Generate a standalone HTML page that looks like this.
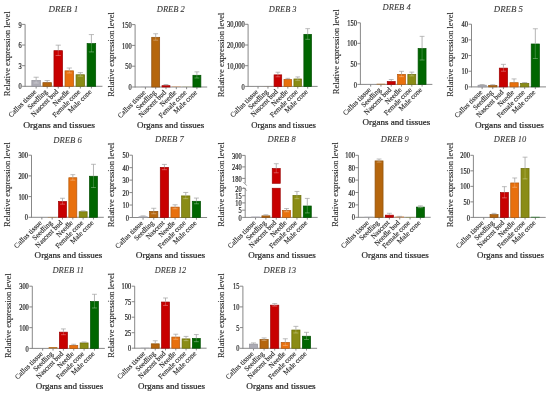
<!DOCTYPE html>
<html><head><meta charset="utf-8"><style>
html,body{margin:0;padding:0;background:#fff;}
svg{display:block;}
text{font-family:'Liberation Serif',serif;fill:#262626;stroke:#262626;stroke-width:0.22px;}
text.t{fill:#3a3a3a;stroke:#3a3a3a;stroke-width:0.1px;}
text.c{stroke-width:0.12px;}
text.y{stroke-width:0.1px;}
</style></head><body>
<svg width="550" height="393" viewBox="0 0 550 393">
<defs><filter id="b" x="-2%" y="-2%" width="104%" height="104%"><feGaussianBlur stdDeviation="0.3"/></filter></defs>
<rect width="550" height="393" fill="#fff"/>
<g filter="url(#b)">
<text class="t" x="63.30" y="11.80" font-size="8.8" text-anchor="middle" font-style="italic" textLength="29.70" lengthAdjust="spacingAndGlyphs">DREB 1</text>
<text class="y" x="10.30" y="53.80" font-size="8.45" text-anchor="middle" textLength="84.70" lengthAdjust="spacingAndGlyphs" transform="rotate(-90 10.30 53.80)">Relative expression level</text>
<text x="59.05" y="127.60" font-size="9.0" text-anchor="middle" textLength="71.80" lengthAdjust="spacingAndGlyphs">Organs and tissues</text>
<line x1="25.10" y1="24.40" x2="25.10" y2="86.75" stroke="#7a7a7a" stroke-width="0.9"/>
<line x1="22.10" y1="86.30" x2="25.10" y2="86.30" stroke="#7a7a7a" stroke-width="0.9"/>
<text x="21.60" y="89.40" font-size="7.4" text-anchor="end" textLength="3.20" lengthAdjust="spacingAndGlyphs">0</text>
<line x1="22.10" y1="65.67" x2="25.10" y2="65.67" stroke="#7a7a7a" stroke-width="0.9"/>
<text x="21.60" y="68.77" font-size="7.4" text-anchor="end" textLength="3.20" lengthAdjust="spacingAndGlyphs">3</text>
<line x1="22.10" y1="45.03" x2="25.10" y2="45.03" stroke="#7a7a7a" stroke-width="0.9"/>
<text x="21.60" y="48.13" font-size="7.4" text-anchor="end" textLength="3.20" lengthAdjust="spacingAndGlyphs">6</text>
<line x1="22.10" y1="24.40" x2="25.10" y2="24.40" stroke="#7a7a7a" stroke-width="0.9"/>
<text x="21.60" y="27.50" font-size="7.4" text-anchor="end" textLength="3.20" lengthAdjust="spacingAndGlyphs">9</text>
<line x1="25.10" y1="86.30" x2="102.45" y2="86.30" stroke="#7a7a7a" stroke-width="0.9"/>
<line x1="36.15" y1="86.30" x2="36.15" y2="88.50" stroke="#7a7a7a" stroke-width="0.9"/>
<rect x="31.86" y="80.46" width="8.58" height="5.84" fill="#acabb4" stroke="#93939a" stroke-width="0.7"/>
<line x1="36.15" y1="80.11" x2="36.15" y2="77.22" stroke="#959595" stroke-width="0.7"/>
<line x1="33.55" y1="77.22" x2="38.75" y2="77.22" stroke="#a0a0a0" stroke-width="0.7"/>
<line x1="36.15" y1="80.11" x2="36.15" y2="83.00" stroke="#fff" stroke-opacity="0.3" stroke-width="0.7"/>
<line x1="33.55" y1="83.00" x2="38.75" y2="83.00" stroke="#fff" stroke-opacity="0.45" stroke-width="0.7"/>
<text class="c" x="36.65" y="92.20" font-size="7.1" text-anchor="end" transform="rotate(-45 36.65 92.20)">Callus tissue</text>
<line x1="47.20" y1="86.30" x2="47.20" y2="88.50" stroke="#7a7a7a" stroke-width="0.9"/>
<rect x="42.91" y="82.66" width="8.58" height="3.64" fill="#b5660e" stroke="#8d4f0a" stroke-width="0.7"/>
<line x1="47.20" y1="82.31" x2="47.20" y2="80.52" stroke="#959595" stroke-width="0.7"/>
<line x1="44.60" y1="80.52" x2="49.80" y2="80.52" stroke="#a0a0a0" stroke-width="0.7"/>
<text class="c" x="47.70" y="92.20" font-size="7.1" text-anchor="end" transform="rotate(-45 47.70 92.20)">Seedling</text>
<line x1="58.25" y1="86.30" x2="58.25" y2="88.50" stroke="#7a7a7a" stroke-width="0.9"/>
<rect x="53.96" y="50.68" width="8.58" height="35.62" fill="#c80000" stroke="#9c0000" stroke-width="0.7"/>
<line x1="58.25" y1="50.33" x2="58.25" y2="45.17" stroke="#959595" stroke-width="0.7"/>
<line x1="55.65" y1="45.17" x2="60.85" y2="45.17" stroke="#a0a0a0" stroke-width="0.7"/>
<line x1="58.25" y1="50.33" x2="58.25" y2="55.49" stroke="#fff" stroke-opacity="0.3" stroke-width="0.7"/>
<line x1="55.65" y1="55.49" x2="60.85" y2="55.49" stroke="#fff" stroke-opacity="0.45" stroke-width="0.7"/>
<text class="c" x="58.75" y="92.20" font-size="7.1" text-anchor="end" transform="rotate(-45 58.75 92.20)">Nascent bud</text>
<line x1="69.30" y1="86.30" x2="69.30" y2="88.50" stroke="#7a7a7a" stroke-width="0.9"/>
<rect x="65.01" y="70.83" width="8.58" height="15.47" fill="#e8700c" stroke="#b45709" stroke-width="0.7"/>
<line x1="69.30" y1="70.48" x2="69.30" y2="68.01" stroke="#959595" stroke-width="0.7"/>
<line x1="66.70" y1="68.01" x2="71.90" y2="68.01" stroke="#a0a0a0" stroke-width="0.7"/>
<line x1="69.30" y1="70.48" x2="69.30" y2="72.96" stroke="#fff" stroke-opacity="0.3" stroke-width="0.7"/>
<line x1="66.70" y1="72.96" x2="71.90" y2="72.96" stroke="#fff" stroke-opacity="0.45" stroke-width="0.7"/>
<text class="c" x="69.80" y="92.20" font-size="7.1" text-anchor="end" transform="rotate(-45 69.80 92.20)">Needle</text>
<line x1="80.35" y1="86.30" x2="80.35" y2="88.50" stroke="#7a7a7a" stroke-width="0.9"/>
<rect x="76.06" y="74.75" width="8.58" height="11.55" fill="#8a8c12" stroke="#6b6d0e" stroke-width="0.7"/>
<line x1="80.35" y1="74.40" x2="80.35" y2="72.61" stroke="#959595" stroke-width="0.7"/>
<line x1="77.75" y1="72.61" x2="82.95" y2="72.61" stroke="#a0a0a0" stroke-width="0.7"/>
<line x1="80.35" y1="74.40" x2="80.35" y2="76.19" stroke="#fff" stroke-opacity="0.3" stroke-width="0.7"/>
<line x1="77.75" y1="76.19" x2="82.95" y2="76.19" stroke="#fff" stroke-opacity="0.45" stroke-width="0.7"/>
<text class="c" x="80.85" y="92.20" font-size="7.1" text-anchor="end" transform="rotate(-45 80.85 92.20)">Female cone</text>
<line x1="91.40" y1="86.30" x2="91.40" y2="88.50" stroke="#7a7a7a" stroke-width="0.9"/>
<rect x="87.11" y="43.60" width="8.58" height="42.70" fill="#006600" stroke="#004f00" stroke-width="0.7"/>
<line x1="91.40" y1="43.25" x2="91.40" y2="34.58" stroke="#959595" stroke-width="0.7"/>
<line x1="88.80" y1="34.58" x2="94.00" y2="34.58" stroke="#a0a0a0" stroke-width="0.7"/>
<line x1="91.40" y1="43.25" x2="91.40" y2="51.91" stroke="#fff" stroke-opacity="0.3" stroke-width="0.7"/>
<line x1="88.80" y1="51.91" x2="94.00" y2="51.91" stroke="#fff" stroke-opacity="0.45" stroke-width="0.7"/>
<text class="c" x="91.90" y="92.20" font-size="7.1" text-anchor="end" transform="rotate(-45 91.90 92.20)">Male cone</text>
<text class="t" x="170.80" y="12.00" font-size="8.8" text-anchor="middle" font-style="italic" textLength="28.10" lengthAdjust="spacingAndGlyphs">DREB 2</text>
<text class="y" x="114.00" y="54.50" font-size="8.45" text-anchor="middle" textLength="84.70" lengthAdjust="spacingAndGlyphs" transform="rotate(-90 114.00 54.50)">Relative expression level</text>
<text x="170.70" y="127.60" font-size="9.0" text-anchor="middle" textLength="67.30" lengthAdjust="spacingAndGlyphs">Organs and tissues</text>
<line x1="135.10" y1="24.60" x2="135.10" y2="87.45" stroke="#7a7a7a" stroke-width="0.9"/>
<line x1="132.10" y1="87.00" x2="135.10" y2="87.00" stroke="#7a7a7a" stroke-width="0.9"/>
<text x="131.60" y="90.10" font-size="7.4" text-anchor="end" textLength="3.20" lengthAdjust="spacingAndGlyphs">0</text>
<line x1="132.10" y1="66.20" x2="135.10" y2="66.20" stroke="#7a7a7a" stroke-width="0.9"/>
<text x="131.60" y="69.30" font-size="7.4" text-anchor="end" textLength="6.40" lengthAdjust="spacingAndGlyphs">50</text>
<line x1="132.10" y1="45.40" x2="135.10" y2="45.40" stroke="#7a7a7a" stroke-width="0.9"/>
<text x="131.60" y="48.50" font-size="7.4" text-anchor="end" textLength="9.60" lengthAdjust="spacingAndGlyphs">100</text>
<line x1="132.10" y1="24.60" x2="135.10" y2="24.60" stroke="#7a7a7a" stroke-width="0.9"/>
<text x="131.60" y="27.70" font-size="7.4" text-anchor="end" textLength="9.60" lengthAdjust="spacingAndGlyphs">150</text>
<line x1="135.10" y1="87.00" x2="207.20" y2="87.00" stroke="#7a7a7a" stroke-width="0.9"/>
<line x1="145.40" y1="87.00" x2="145.40" y2="89.20" stroke="#7a7a7a" stroke-width="0.9"/>
<rect x="141.07" y="86.75" width="8.65" height="0.25" fill="#acabb4"/>
<text class="c" x="145.90" y="92.90" font-size="7.1" text-anchor="end" transform="rotate(-45 145.90 92.90)">Callus tissue</text>
<line x1="155.70" y1="87.00" x2="155.70" y2="89.20" stroke="#7a7a7a" stroke-width="0.9"/>
<rect x="151.72" y="37.31" width="7.95" height="49.69" fill="#b5660e" stroke="#8d4f0a" stroke-width="0.7"/>
<line x1="155.70" y1="36.96" x2="155.70" y2="33.75" stroke="#959595" stroke-width="0.7"/>
<line x1="153.28" y1="33.75" x2="158.12" y2="33.75" stroke="#a0a0a0" stroke-width="0.7"/>
<line x1="155.70" y1="36.96" x2="155.70" y2="40.16" stroke="#fff" stroke-opacity="0.3" stroke-width="0.7"/>
<line x1="153.28" y1="40.16" x2="158.12" y2="40.16" stroke="#fff" stroke-opacity="0.45" stroke-width="0.7"/>
<text class="c" x="156.20" y="92.90" font-size="7.1" text-anchor="end" transform="rotate(-45 156.20 92.90)">Seedling</text>
<line x1="166.00" y1="87.00" x2="166.00" y2="89.20" stroke="#7a7a7a" stroke-width="0.9"/>
<rect x="162.02" y="85.69" width="7.95" height="1.31" fill="#c80000" stroke="#9c0000" stroke-width="0.7"/>
<line x1="166.00" y1="85.34" x2="166.00" y2="84.50" stroke="#959595" stroke-width="0.7"/>
<line x1="163.58" y1="84.50" x2="168.42" y2="84.50" stroke="#a0a0a0" stroke-width="0.7"/>
<text class="c" x="166.50" y="92.90" font-size="7.1" text-anchor="end" transform="rotate(-45 166.50 92.90)">Nascent bud</text>
<line x1="176.30" y1="87.00" x2="176.30" y2="89.20" stroke="#7a7a7a" stroke-width="0.9"/>
<rect x="171.97" y="86.75" width="8.65" height="0.25" fill="#e8700c"/>
<text class="c" x="176.80" y="92.90" font-size="7.1" text-anchor="end" transform="rotate(-45 176.80 92.90)">Needle</text>
<line x1="186.60" y1="87.00" x2="186.60" y2="89.20" stroke="#7a7a7a" stroke-width="0.9"/>
<rect x="182.27" y="86.88" width="8.65" height="0.12" fill="#8a8c12"/>
<text class="c" x="187.10" y="92.90" font-size="7.1" text-anchor="end" transform="rotate(-45 187.10 92.90)">Female cone</text>
<line x1="196.90" y1="87.00" x2="196.90" y2="89.20" stroke="#7a7a7a" stroke-width="0.9"/>
<rect x="192.92" y="75.29" width="7.95" height="11.71" fill="#006600" stroke="#004f00" stroke-width="0.7"/>
<line x1="196.90" y1="74.94" x2="196.90" y2="71.86" stroke="#959595" stroke-width="0.7"/>
<line x1="194.48" y1="71.86" x2="199.32" y2="71.86" stroke="#a0a0a0" stroke-width="0.7"/>
<line x1="196.90" y1="74.94" x2="196.90" y2="78.01" stroke="#fff" stroke-opacity="0.3" stroke-width="0.7"/>
<line x1="194.48" y1="78.01" x2="199.32" y2="78.01" stroke="#fff" stroke-opacity="0.45" stroke-width="0.7"/>
<text class="c" x="197.40" y="92.90" font-size="7.1" text-anchor="end" transform="rotate(-45 197.40 92.90)">Male cone</text>
<text class="t" x="282.70" y="11.80" font-size="8.8" text-anchor="middle" font-style="italic" textLength="27.70" lengthAdjust="spacingAndGlyphs">DREB 3</text>
<text class="y" x="224.00" y="54.90" font-size="8.45" text-anchor="middle" textLength="84.70" lengthAdjust="spacingAndGlyphs" transform="rotate(-90 224.00 54.90)">Relative expression level</text>
<text x="283.60" y="127.60" font-size="9.0" text-anchor="middle" textLength="64.70" lengthAdjust="spacingAndGlyphs">Organs and tissues</text>
<line x1="248.10" y1="24.30" x2="248.10" y2="86.85" stroke="#7a7a7a" stroke-width="0.9"/>
<line x1="245.10" y1="86.40" x2="248.10" y2="86.40" stroke="#7a7a7a" stroke-width="0.9"/>
<text x="244.60" y="89.50" font-size="7.4" text-anchor="end" textLength="3.20" lengthAdjust="spacingAndGlyphs">0</text>
<line x1="245.10" y1="65.70" x2="248.10" y2="65.70" stroke="#7a7a7a" stroke-width="0.9"/>
<text x="244.60" y="68.80" font-size="7.4" text-anchor="end" textLength="17.60" lengthAdjust="spacingAndGlyphs">10,000</text>
<line x1="245.10" y1="45.00" x2="248.10" y2="45.00" stroke="#7a7a7a" stroke-width="0.9"/>
<text x="244.60" y="48.10" font-size="7.4" text-anchor="end" textLength="17.60" lengthAdjust="spacingAndGlyphs">20,000</text>
<line x1="245.10" y1="24.30" x2="248.10" y2="24.30" stroke="#7a7a7a" stroke-width="0.9"/>
<text x="244.60" y="27.40" font-size="7.4" text-anchor="end" textLength="17.60" lengthAdjust="spacingAndGlyphs">30,000</text>
<line x1="248.10" y1="86.40" x2="317.61" y2="86.40" stroke="#7a7a7a" stroke-width="0.9"/>
<line x1="258.03" y1="86.40" x2="258.03" y2="88.60" stroke="#7a7a7a" stroke-width="0.9"/>
<rect x="253.86" y="86.34" width="8.34" height="0.06" fill="#acabb4"/>
<text class="c" x="258.53" y="92.30" font-size="7.1" text-anchor="end" transform="rotate(-45 258.53 92.30)">Callus tissue</text>
<line x1="267.96" y1="86.40" x2="267.96" y2="88.60" stroke="#7a7a7a" stroke-width="0.9"/>
<rect x="263.79" y="86.34" width="8.34" height="0.06" fill="#b5660e"/>
<text class="c" x="268.46" y="92.30" font-size="7.1" text-anchor="end" transform="rotate(-45 268.46 92.30)">Seedling</text>
<line x1="277.89" y1="86.40" x2="277.89" y2="88.60" stroke="#7a7a7a" stroke-width="0.9"/>
<rect x="274.07" y="74.87" width="7.64" height="11.53" fill="#c80000" stroke="#9c0000" stroke-width="0.7"/>
<line x1="277.89" y1="74.52" x2="277.89" y2="72.24" stroke="#959595" stroke-width="0.7"/>
<line x1="275.55" y1="72.24" x2="280.23" y2="72.24" stroke="#a0a0a0" stroke-width="0.7"/>
<line x1="277.89" y1="74.52" x2="277.89" y2="76.80" stroke="#fff" stroke-opacity="0.3" stroke-width="0.7"/>
<line x1="275.55" y1="76.80" x2="280.23" y2="76.80" stroke="#fff" stroke-opacity="0.45" stroke-width="0.7"/>
<text class="c" x="278.39" y="92.30" font-size="7.1" text-anchor="end" transform="rotate(-45 278.39 92.30)">Nascent bud</text>
<line x1="287.82" y1="86.40" x2="287.82" y2="88.60" stroke="#7a7a7a" stroke-width="0.9"/>
<rect x="284.00" y="79.46" width="7.64" height="6.94" fill="#e8700c" stroke="#b45709" stroke-width="0.7"/>
<line x1="287.82" y1="79.11" x2="287.82" y2="78.33" stroke="#959595" stroke-width="0.7"/>
<line x1="285.48" y1="78.33" x2="290.16" y2="78.33" stroke="#a0a0a0" stroke-width="0.7"/>
<text class="c" x="288.32" y="92.30" font-size="7.1" text-anchor="end" transform="rotate(-45 288.32 92.30)">Needle</text>
<line x1="297.75" y1="86.40" x2="297.75" y2="88.60" stroke="#7a7a7a" stroke-width="0.9"/>
<rect x="293.93" y="78.97" width="7.64" height="7.43" fill="#8a8c12" stroke="#6b6d0e" stroke-width="0.7"/>
<line x1="297.75" y1="78.62" x2="297.75" y2="76.92" stroke="#959595" stroke-width="0.7"/>
<line x1="295.41" y1="76.92" x2="300.09" y2="76.92" stroke="#a0a0a0" stroke-width="0.7"/>
<line x1="297.75" y1="78.62" x2="297.75" y2="80.31" stroke="#fff" stroke-opacity="0.3" stroke-width="0.7"/>
<line x1="295.41" y1="80.31" x2="300.09" y2="80.31" stroke="#fff" stroke-opacity="0.45" stroke-width="0.7"/>
<text class="c" x="298.25" y="92.30" font-size="7.1" text-anchor="end" transform="rotate(-45 298.25 92.30)">Female cone</text>
<line x1="307.68" y1="86.40" x2="307.68" y2="88.60" stroke="#7a7a7a" stroke-width="0.9"/>
<rect x="303.86" y="34.34" width="7.64" height="52.06" fill="#006600" stroke="#004f00" stroke-width="0.7"/>
<line x1="307.68" y1="33.99" x2="307.68" y2="28.65" stroke="#959595" stroke-width="0.7"/>
<line x1="305.34" y1="28.65" x2="310.02" y2="28.65" stroke="#a0a0a0" stroke-width="0.7"/>
<line x1="307.68" y1="33.99" x2="307.68" y2="39.33" stroke="#fff" stroke-opacity="0.3" stroke-width="0.7"/>
<line x1="305.34" y1="39.33" x2="310.02" y2="39.33" stroke="#fff" stroke-opacity="0.45" stroke-width="0.7"/>
<text class="c" x="308.18" y="92.30" font-size="7.1" text-anchor="end" transform="rotate(-45 308.18 92.30)">Male cone</text>
<text class="t" x="396.60" y="9.50" font-size="8.8" text-anchor="middle" font-style="italic" textLength="28.10" lengthAdjust="spacingAndGlyphs">DREB 4</text>
<text class="y" x="339.10" y="51.80" font-size="8.45" text-anchor="middle" textLength="84.70" lengthAdjust="spacingAndGlyphs" transform="rotate(-90 339.10 51.80)">Relative expression level</text>
<text x="396.40" y="125.40" font-size="9.0" text-anchor="middle" textLength="67.80" lengthAdjust="spacingAndGlyphs">Organs and tissues</text>
<line x1="360.40" y1="22.80" x2="360.40" y2="84.85" stroke="#7a7a7a" stroke-width="0.9"/>
<line x1="357.40" y1="84.40" x2="360.40" y2="84.40" stroke="#7a7a7a" stroke-width="0.9"/>
<text x="356.90" y="87.50" font-size="7.4" text-anchor="end" textLength="3.20" lengthAdjust="spacingAndGlyphs">0</text>
<line x1="357.40" y1="63.87" x2="360.40" y2="63.87" stroke="#7a7a7a" stroke-width="0.9"/>
<text x="356.90" y="66.97" font-size="7.4" text-anchor="end" textLength="6.40" lengthAdjust="spacingAndGlyphs">50</text>
<line x1="357.40" y1="43.33" x2="360.40" y2="43.33" stroke="#7a7a7a" stroke-width="0.9"/>
<text x="356.90" y="46.43" font-size="7.4" text-anchor="end" textLength="9.60" lengthAdjust="spacingAndGlyphs">100</text>
<line x1="357.40" y1="22.80" x2="360.40" y2="22.80" stroke="#7a7a7a" stroke-width="0.9"/>
<text x="356.90" y="25.90" font-size="7.4" text-anchor="end" textLength="9.60" lengthAdjust="spacingAndGlyphs">150</text>
<line x1="360.40" y1="84.40" x2="432.36" y2="84.40" stroke="#7a7a7a" stroke-width="0.9"/>
<line x1="370.68" y1="84.40" x2="370.68" y2="86.60" stroke="#7a7a7a" stroke-width="0.9"/>
<rect x="366.36" y="84.19" width="8.64" height="0.21" fill="#acabb4"/>
<text class="c" x="371.18" y="90.30" font-size="7.1" text-anchor="end" transform="rotate(-45 371.18 90.30)">Callus tissue</text>
<line x1="380.96" y1="84.40" x2="380.96" y2="86.60" stroke="#7a7a7a" stroke-width="0.9"/>
<rect x="376.64" y="83.78" width="8.64" height="0.62" fill="#b5660e"/>
<text class="c" x="381.46" y="90.30" font-size="7.1" text-anchor="end" transform="rotate(-45 381.46 90.30)">Seedling</text>
<line x1="391.24" y1="84.40" x2="391.24" y2="86.60" stroke="#7a7a7a" stroke-width="0.9"/>
<rect x="387.27" y="81.55" width="7.94" height="2.85" fill="#c80000" stroke="#9c0000" stroke-width="0.7"/>
<line x1="391.24" y1="81.20" x2="391.24" y2="79.51" stroke="#959595" stroke-width="0.7"/>
<line x1="388.82" y1="79.51" x2="393.66" y2="79.51" stroke="#a0a0a0" stroke-width="0.7"/>
<text class="c" x="391.74" y="90.30" font-size="7.1" text-anchor="end" transform="rotate(-45 391.74 90.30)">Nascent bud</text>
<line x1="401.52" y1="84.40" x2="401.52" y2="86.60" stroke="#7a7a7a" stroke-width="0.9"/>
<rect x="397.55" y="74.36" width="7.94" height="10.04" fill="#e8700c" stroke="#b45709" stroke-width="0.7"/>
<line x1="401.52" y1="74.01" x2="401.52" y2="71.34" stroke="#959595" stroke-width="0.7"/>
<line x1="399.10" y1="71.34" x2="403.94" y2="71.34" stroke="#a0a0a0" stroke-width="0.7"/>
<line x1="401.52" y1="74.01" x2="401.52" y2="76.68" stroke="#fff" stroke-opacity="0.3" stroke-width="0.7"/>
<line x1="399.10" y1="76.68" x2="403.94" y2="76.68" stroke="#fff" stroke-opacity="0.45" stroke-width="0.7"/>
<text class="c" x="402.02" y="90.30" font-size="7.1" text-anchor="end" transform="rotate(-45 402.02 90.30)">Needle</text>
<line x1="411.80" y1="84.40" x2="411.80" y2="86.60" stroke="#7a7a7a" stroke-width="0.9"/>
<rect x="407.83" y="74.36" width="7.94" height="10.04" fill="#8a8c12" stroke="#6b6d0e" stroke-width="0.7"/>
<line x1="411.80" y1="74.01" x2="411.80" y2="72.12" stroke="#959595" stroke-width="0.7"/>
<line x1="409.38" y1="72.12" x2="414.22" y2="72.12" stroke="#a0a0a0" stroke-width="0.7"/>
<line x1="411.80" y1="74.01" x2="411.80" y2="75.90" stroke="#fff" stroke-opacity="0.3" stroke-width="0.7"/>
<line x1="409.38" y1="75.90" x2="414.22" y2="75.90" stroke="#fff" stroke-opacity="0.45" stroke-width="0.7"/>
<text class="c" x="412.30" y="90.30" font-size="7.1" text-anchor="end" transform="rotate(-45 412.30 90.30)">Female cone</text>
<line x1="422.08" y1="84.40" x2="422.08" y2="86.60" stroke="#7a7a7a" stroke-width="0.9"/>
<rect x="418.11" y="48.53" width="7.94" height="35.87" fill="#006600" stroke="#004f00" stroke-width="0.7"/>
<line x1="422.08" y1="48.18" x2="422.08" y2="36.35" stroke="#959595" stroke-width="0.7"/>
<line x1="419.66" y1="36.35" x2="424.50" y2="36.35" stroke="#a0a0a0" stroke-width="0.7"/>
<line x1="422.08" y1="48.18" x2="422.08" y2="60.01" stroke="#fff" stroke-opacity="0.3" stroke-width="0.7"/>
<line x1="419.66" y1="60.01" x2="424.50" y2="60.01" stroke="#fff" stroke-opacity="0.45" stroke-width="0.7"/>
<text class="c" x="422.58" y="90.30" font-size="7.1" text-anchor="end" transform="rotate(-45 422.58 90.30)">Male cone</text>
<text class="t" x="508.40" y="11.80" font-size="8.8" text-anchor="middle" font-style="italic" textLength="29.10" lengthAdjust="spacingAndGlyphs">DREB 5</text>
<text class="y" x="453.00" y="54.50" font-size="8.45" text-anchor="middle" textLength="84.70" lengthAdjust="spacingAndGlyphs" transform="rotate(-90 453.00 54.50)">Relative expression level</text>
<text x="509.40" y="127.60" font-size="9.0" text-anchor="middle" textLength="69.00" lengthAdjust="spacingAndGlyphs">Organs and tissues</text>
<line x1="471.50" y1="24.20" x2="471.50" y2="87.35" stroke="#7a7a7a" stroke-width="0.9"/>
<line x1="468.50" y1="86.90" x2="471.50" y2="86.90" stroke="#7a7a7a" stroke-width="0.9"/>
<text x="468.00" y="90.00" font-size="7.4" text-anchor="end" textLength="3.20" lengthAdjust="spacingAndGlyphs">0</text>
<line x1="468.50" y1="71.23" x2="471.50" y2="71.23" stroke="#7a7a7a" stroke-width="0.9"/>
<text x="468.00" y="74.33" font-size="7.4" text-anchor="end" textLength="6.40" lengthAdjust="spacingAndGlyphs">10</text>
<line x1="468.50" y1="55.55" x2="471.50" y2="55.55" stroke="#7a7a7a" stroke-width="0.9"/>
<text x="468.00" y="58.65" font-size="7.4" text-anchor="end" textLength="6.40" lengthAdjust="spacingAndGlyphs">20</text>
<line x1="468.50" y1="39.88" x2="471.50" y2="39.88" stroke="#7a7a7a" stroke-width="0.9"/>
<text x="468.00" y="42.98" font-size="7.4" text-anchor="end" textLength="6.40" lengthAdjust="spacingAndGlyphs">30</text>
<line x1="468.50" y1="24.20" x2="471.50" y2="24.20" stroke="#7a7a7a" stroke-width="0.9"/>
<text x="468.00" y="27.30" font-size="7.4" text-anchor="end" textLength="6.40" lengthAdjust="spacingAndGlyphs">40</text>
<line x1="471.50" y1="86.90" x2="545.98" y2="86.90" stroke="#7a7a7a" stroke-width="0.9"/>
<line x1="482.14" y1="86.90" x2="482.14" y2="89.10" stroke="#7a7a7a" stroke-width="0.9"/>
<rect x="478.02" y="85.21" width="8.24" height="1.69" fill="#acabb4" stroke="#93939a" stroke-width="0.7"/>
<line x1="482.14" y1="84.86" x2="482.14" y2="84.55" stroke="#959595" stroke-width="0.7"/>
<line x1="479.64" y1="84.55" x2="484.64" y2="84.55" stroke="#a0a0a0" stroke-width="0.7"/>
<text class="c" x="482.64" y="92.80" font-size="7.1" text-anchor="end" transform="rotate(-45 482.64 92.80)">Callus tissue</text>
<line x1="492.78" y1="86.90" x2="492.78" y2="89.10" stroke="#7a7a7a" stroke-width="0.9"/>
<rect x="488.66" y="85.45" width="8.24" height="1.45" fill="#b5660e" stroke="#8d4f0a" stroke-width="0.7"/>
<line x1="492.78" y1="85.10" x2="492.78" y2="84.71" stroke="#959595" stroke-width="0.7"/>
<line x1="490.28" y1="84.71" x2="495.28" y2="84.71" stroke="#a0a0a0" stroke-width="0.7"/>
<text class="c" x="493.28" y="92.80" font-size="7.1" text-anchor="end" transform="rotate(-45 493.28 92.80)">Seedling</text>
<line x1="503.42" y1="86.90" x2="503.42" y2="89.10" stroke="#7a7a7a" stroke-width="0.9"/>
<rect x="499.30" y="68.13" width="8.24" height="18.77" fill="#c80000" stroke="#9c0000" stroke-width="0.7"/>
<line x1="503.42" y1="67.78" x2="503.42" y2="64.33" stroke="#959595" stroke-width="0.7"/>
<line x1="500.92" y1="64.33" x2="505.92" y2="64.33" stroke="#a0a0a0" stroke-width="0.7"/>
<line x1="503.42" y1="67.78" x2="503.42" y2="71.22" stroke="#fff" stroke-opacity="0.3" stroke-width="0.7"/>
<line x1="500.92" y1="71.22" x2="505.92" y2="71.22" stroke="#fff" stroke-opacity="0.45" stroke-width="0.7"/>
<text class="c" x="503.92" y="92.80" font-size="7.1" text-anchor="end" transform="rotate(-45 503.92 92.80)">Nascent bud</text>
<line x1="514.06" y1="86.90" x2="514.06" y2="89.10" stroke="#7a7a7a" stroke-width="0.9"/>
<rect x="509.94" y="82.70" width="8.24" height="4.20" fill="#e8700c" stroke="#b45709" stroke-width="0.7"/>
<line x1="514.06" y1="82.35" x2="514.06" y2="78.91" stroke="#959595" stroke-width="0.7"/>
<line x1="511.56" y1="78.91" x2="516.56" y2="78.91" stroke="#a0a0a0" stroke-width="0.7"/>
<text class="c" x="514.56" y="92.80" font-size="7.1" text-anchor="end" transform="rotate(-45 514.56 92.80)">Needle</text>
<line x1="524.70" y1="86.90" x2="524.70" y2="89.10" stroke="#7a7a7a" stroke-width="0.9"/>
<rect x="520.58" y="83.33" width="8.24" height="3.57" fill="#8a8c12" stroke="#6b6d0e" stroke-width="0.7"/>
<line x1="524.70" y1="82.98" x2="524.70" y2="82.51" stroke="#959595" stroke-width="0.7"/>
<line x1="522.20" y1="82.51" x2="527.20" y2="82.51" stroke="#a0a0a0" stroke-width="0.7"/>
<text class="c" x="525.20" y="92.80" font-size="7.1" text-anchor="end" transform="rotate(-45 525.20 92.80)">Female cone</text>
<line x1="535.34" y1="86.90" x2="535.34" y2="89.10" stroke="#7a7a7a" stroke-width="0.9"/>
<rect x="531.22" y="43.99" width="8.24" height="42.91" fill="#006600" stroke="#004f00" stroke-width="0.7"/>
<line x1="535.34" y1="43.64" x2="535.34" y2="28.75" stroke="#959595" stroke-width="0.7"/>
<line x1="532.84" y1="28.75" x2="537.84" y2="28.75" stroke="#a0a0a0" stroke-width="0.7"/>
<line x1="535.34" y1="43.64" x2="535.34" y2="58.53" stroke="#fff" stroke-opacity="0.3" stroke-width="0.7"/>
<line x1="532.84" y1="58.53" x2="537.84" y2="58.53" stroke="#fff" stroke-opacity="0.45" stroke-width="0.7"/>
<text class="c" x="535.84" y="92.80" font-size="7.1" text-anchor="end" transform="rotate(-45 535.84 92.80)">Male cone</text>
<text class="t" x="67.60" y="142.50" font-size="8.8" text-anchor="middle" font-style="italic" textLength="28.50" lengthAdjust="spacingAndGlyphs">DREB 6</text>
<text class="y" x="10.30" y="184.60" font-size="8.45" text-anchor="middle" textLength="84.70" lengthAdjust="spacingAndGlyphs" transform="rotate(-90 10.30 184.60)">Relative expression level</text>
<text x="68.50" y="258.20" font-size="9.0" text-anchor="middle" textLength="67.80" lengthAdjust="spacingAndGlyphs">Organs and tissues</text>
<line x1="31.50" y1="155.20" x2="31.50" y2="217.75" stroke="#7a7a7a" stroke-width="0.9"/>
<line x1="28.50" y1="217.30" x2="31.50" y2="217.30" stroke="#7a7a7a" stroke-width="0.9"/>
<text x="28.00" y="220.40" font-size="7.4" text-anchor="end" textLength="3.20" lengthAdjust="spacingAndGlyphs">0</text>
<line x1="28.50" y1="196.60" x2="31.50" y2="196.60" stroke="#7a7a7a" stroke-width="0.9"/>
<text x="28.00" y="199.70" font-size="7.4" text-anchor="end" textLength="9.60" lengthAdjust="spacingAndGlyphs">100</text>
<line x1="28.50" y1="175.90" x2="31.50" y2="175.90" stroke="#7a7a7a" stroke-width="0.9"/>
<text x="28.00" y="179.00" font-size="7.4" text-anchor="end" textLength="9.60" lengthAdjust="spacingAndGlyphs">200</text>
<line x1="28.50" y1="155.20" x2="31.50" y2="155.20" stroke="#7a7a7a" stroke-width="0.9"/>
<text x="28.00" y="158.30" font-size="7.4" text-anchor="end" textLength="9.60" lengthAdjust="spacingAndGlyphs">300</text>
<line x1="31.50" y1="217.30" x2="103.81" y2="217.30" stroke="#7a7a7a" stroke-width="0.9"/>
<line x1="41.83" y1="217.30" x2="41.83" y2="219.50" stroke="#7a7a7a" stroke-width="0.9"/>
<rect x="37.49" y="217.18" width="8.68" height="0.12" fill="#acabb4"/>
<text class="c" x="42.33" y="223.20" font-size="7.1" text-anchor="end" transform="rotate(-45 42.33 223.20)">Callus tissue</text>
<line x1="52.16" y1="217.30" x2="52.16" y2="219.50" stroke="#7a7a7a" stroke-width="0.9"/>
<rect x="47.82" y="216.99" width="8.68" height="0.31" fill="#b5660e"/>
<text class="c" x="52.66" y="223.20" font-size="7.1" text-anchor="end" transform="rotate(-45 52.66 223.20)">Seedling</text>
<line x1="62.49" y1="217.30" x2="62.49" y2="219.50" stroke="#7a7a7a" stroke-width="0.9"/>
<rect x="58.50" y="201.57" width="7.98" height="15.73" fill="#c80000" stroke="#9c0000" stroke-width="0.7"/>
<line x1="62.49" y1="201.22" x2="62.49" y2="198.26" stroke="#959595" stroke-width="0.7"/>
<line x1="60.06" y1="198.26" x2="64.92" y2="198.26" stroke="#a0a0a0" stroke-width="0.7"/>
<line x1="62.49" y1="201.22" x2="62.49" y2="204.18" stroke="#fff" stroke-opacity="0.3" stroke-width="0.7"/>
<line x1="60.06" y1="204.18" x2="64.92" y2="204.18" stroke="#fff" stroke-opacity="0.45" stroke-width="0.7"/>
<text class="c" x="62.99" y="223.20" font-size="7.1" text-anchor="end" transform="rotate(-45 62.99 223.20)">Nascent bud</text>
<line x1="72.82" y1="217.30" x2="72.82" y2="219.50" stroke="#7a7a7a" stroke-width="0.9"/>
<rect x="68.83" y="177.76" width="7.98" height="39.54" fill="#e8700c" stroke="#b45709" stroke-width="0.7"/>
<line x1="72.82" y1="177.41" x2="72.82" y2="174.66" stroke="#959595" stroke-width="0.7"/>
<line x1="70.39" y1="174.66" x2="75.25" y2="174.66" stroke="#a0a0a0" stroke-width="0.7"/>
<line x1="72.82" y1="177.41" x2="72.82" y2="180.16" stroke="#fff" stroke-opacity="0.3" stroke-width="0.7"/>
<line x1="70.39" y1="180.16" x2="75.25" y2="180.16" stroke="#fff" stroke-opacity="0.45" stroke-width="0.7"/>
<text class="c" x="73.32" y="223.20" font-size="7.1" text-anchor="end" transform="rotate(-45 73.32 223.20)">Needle</text>
<line x1="83.15" y1="217.30" x2="83.15" y2="219.50" stroke="#7a7a7a" stroke-width="0.9"/>
<rect x="79.16" y="211.73" width="7.98" height="5.57" fill="#8a8c12" stroke="#6b6d0e" stroke-width="0.7"/>
<line x1="83.15" y1="211.38" x2="83.15" y2="210.88" stroke="#959595" stroke-width="0.7"/>
<line x1="80.72" y1="210.88" x2="85.58" y2="210.88" stroke="#a0a0a0" stroke-width="0.7"/>
<text class="c" x="83.65" y="223.20" font-size="7.1" text-anchor="end" transform="rotate(-45 83.65 223.20)">Female cone</text>
<line x1="93.48" y1="217.30" x2="93.48" y2="219.50" stroke="#7a7a7a" stroke-width="0.9"/>
<rect x="89.49" y="176.25" width="7.98" height="41.05" fill="#006600" stroke="#004f00" stroke-width="0.7"/>
<line x1="93.48" y1="175.90" x2="93.48" y2="164.31" stroke="#959595" stroke-width="0.7"/>
<line x1="91.05" y1="164.31" x2="95.91" y2="164.31" stroke="#a0a0a0" stroke-width="0.7"/>
<line x1="93.48" y1="175.90" x2="93.48" y2="187.49" stroke="#fff" stroke-opacity="0.3" stroke-width="0.7"/>
<line x1="91.05" y1="187.49" x2="95.91" y2="187.49" stroke="#fff" stroke-opacity="0.45" stroke-width="0.7"/>
<text class="c" x="93.98" y="223.20" font-size="7.1" text-anchor="end" transform="rotate(-45 93.98 223.20)">Male cone</text>
<text class="t" x="169.50" y="142.30" font-size="8.8" text-anchor="middle" font-style="italic" textLength="28.80" lengthAdjust="spacingAndGlyphs">DREB 7</text>
<text class="y" x="114.10" y="184.90" font-size="8.45" text-anchor="middle" textLength="84.70" lengthAdjust="spacingAndGlyphs" transform="rotate(-90 114.10 184.90)">Relative expression level</text>
<text x="170.50" y="258.20" font-size="9.0" text-anchor="middle" textLength="69.50" lengthAdjust="spacingAndGlyphs">Organs and tissues</text>
<line x1="132.40" y1="155.20" x2="132.40" y2="217.95" stroke="#7a7a7a" stroke-width="0.9"/>
<line x1="129.40" y1="217.50" x2="132.40" y2="217.50" stroke="#7a7a7a" stroke-width="0.9"/>
<text x="128.90" y="220.60" font-size="7.4" text-anchor="end" textLength="3.20" lengthAdjust="spacingAndGlyphs">0</text>
<line x1="129.40" y1="205.04" x2="132.40" y2="205.04" stroke="#7a7a7a" stroke-width="0.9"/>
<text x="128.90" y="208.14" font-size="7.4" text-anchor="end" textLength="6.40" lengthAdjust="spacingAndGlyphs">10</text>
<line x1="129.40" y1="192.58" x2="132.40" y2="192.58" stroke="#7a7a7a" stroke-width="0.9"/>
<text x="128.90" y="195.68" font-size="7.4" text-anchor="end" textLength="6.40" lengthAdjust="spacingAndGlyphs">20</text>
<line x1="129.40" y1="180.12" x2="132.40" y2="180.12" stroke="#7a7a7a" stroke-width="0.9"/>
<text x="128.90" y="183.22" font-size="7.4" text-anchor="end" textLength="6.40" lengthAdjust="spacingAndGlyphs">30</text>
<line x1="129.40" y1="167.66" x2="132.40" y2="167.66" stroke="#7a7a7a" stroke-width="0.9"/>
<text x="128.90" y="170.76" font-size="7.4" text-anchor="end" textLength="6.40" lengthAdjust="spacingAndGlyphs">40</text>
<line x1="129.40" y1="155.20" x2="132.40" y2="155.20" stroke="#7a7a7a" stroke-width="0.9"/>
<text x="128.90" y="158.30" font-size="7.4" text-anchor="end" textLength="6.40" lengthAdjust="spacingAndGlyphs">50</text>
<line x1="132.40" y1="217.50" x2="207.09" y2="217.50" stroke="#7a7a7a" stroke-width="0.9"/>
<line x1="143.07" y1="217.50" x2="143.07" y2="219.70" stroke="#7a7a7a" stroke-width="0.9"/>
<rect x="138.59" y="216.25" width="8.96" height="1.25" fill="#acabb4"/>
<line x1="143.07" y1="216.25" x2="143.07" y2="215.88" stroke="#959595" stroke-width="0.7"/>
<line x1="140.56" y1="215.88" x2="145.58" y2="215.88" stroke="#a0a0a0" stroke-width="0.7"/>
<text class="c" x="143.57" y="223.40" font-size="7.1" text-anchor="end" transform="rotate(-45 143.57 223.40)">Callus tissue</text>
<line x1="153.74" y1="217.50" x2="153.74" y2="219.70" stroke="#7a7a7a" stroke-width="0.9"/>
<rect x="149.61" y="211.37" width="8.26" height="6.13" fill="#b5660e" stroke="#8d4f0a" stroke-width="0.7"/>
<line x1="153.74" y1="211.02" x2="153.74" y2="208.28" stroke="#959595" stroke-width="0.7"/>
<line x1="151.23" y1="208.28" x2="156.25" y2="208.28" stroke="#a0a0a0" stroke-width="0.7"/>
<line x1="153.74" y1="211.02" x2="153.74" y2="213.76" stroke="#fff" stroke-opacity="0.3" stroke-width="0.7"/>
<line x1="151.23" y1="213.76" x2="156.25" y2="213.76" stroke="#fff" stroke-opacity="0.45" stroke-width="0.7"/>
<text class="c" x="154.24" y="223.40" font-size="7.1" text-anchor="end" transform="rotate(-45 154.24 223.40)">Seedling</text>
<line x1="164.41" y1="217.50" x2="164.41" y2="219.70" stroke="#7a7a7a" stroke-width="0.9"/>
<rect x="160.28" y="167.39" width="8.26" height="50.11" fill="#c80000" stroke="#9c0000" stroke-width="0.7"/>
<line x1="164.41" y1="167.04" x2="164.41" y2="164.42" stroke="#959595" stroke-width="0.7"/>
<line x1="161.90" y1="164.42" x2="166.92" y2="164.42" stroke="#a0a0a0" stroke-width="0.7"/>
<line x1="164.41" y1="167.04" x2="164.41" y2="169.65" stroke="#fff" stroke-opacity="0.3" stroke-width="0.7"/>
<line x1="161.90" y1="169.65" x2="166.92" y2="169.65" stroke="#fff" stroke-opacity="0.45" stroke-width="0.7"/>
<text class="c" x="164.91" y="223.40" font-size="7.1" text-anchor="end" transform="rotate(-45 164.91 223.40)">Nascent</text>
<line x1="175.08" y1="217.50" x2="175.08" y2="219.70" stroke="#7a7a7a" stroke-width="0.9"/>
<rect x="170.95" y="207.13" width="8.26" height="10.37" fill="#e8700c" stroke="#b45709" stroke-width="0.7"/>
<line x1="175.08" y1="206.78" x2="175.08" y2="204.79" stroke="#959595" stroke-width="0.7"/>
<line x1="172.57" y1="204.79" x2="177.59" y2="204.79" stroke="#a0a0a0" stroke-width="0.7"/>
<line x1="175.08" y1="206.78" x2="175.08" y2="208.78" stroke="#fff" stroke-opacity="0.3" stroke-width="0.7"/>
<line x1="172.57" y1="208.78" x2="177.59" y2="208.78" stroke="#fff" stroke-opacity="0.45" stroke-width="0.7"/>
<text class="c" x="175.58" y="223.40" font-size="7.1" text-anchor="end" transform="rotate(-45 175.58 223.40)">Needle</text>
<line x1="185.75" y1="217.50" x2="185.75" y2="219.70" stroke="#7a7a7a" stroke-width="0.9"/>
<rect x="181.62" y="195.92" width="8.26" height="21.58" fill="#8a8c12" stroke="#6b6d0e" stroke-width="0.7"/>
<line x1="185.75" y1="195.57" x2="185.75" y2="192.46" stroke="#959595" stroke-width="0.7"/>
<line x1="183.24" y1="192.46" x2="188.26" y2="192.46" stroke="#a0a0a0" stroke-width="0.7"/>
<line x1="185.75" y1="195.57" x2="185.75" y2="198.69" stroke="#fff" stroke-opacity="0.3" stroke-width="0.7"/>
<line x1="183.24" y1="198.69" x2="188.26" y2="198.69" stroke="#fff" stroke-opacity="0.45" stroke-width="0.7"/>
<text class="c" x="186.25" y="223.40" font-size="7.1" text-anchor="end" transform="rotate(-45 186.25 223.40)">Female cone</text>
<line x1="196.42" y1="217.50" x2="196.42" y2="219.70" stroke="#7a7a7a" stroke-width="0.9"/>
<rect x="192.29" y="201.28" width="8.26" height="16.22" fill="#006600" stroke="#004f00" stroke-width="0.7"/>
<line x1="196.42" y1="200.93" x2="196.42" y2="198.06" stroke="#959595" stroke-width="0.7"/>
<line x1="193.91" y1="198.06" x2="198.93" y2="198.06" stroke="#a0a0a0" stroke-width="0.7"/>
<line x1="196.42" y1="200.93" x2="196.42" y2="203.79" stroke="#fff" stroke-opacity="0.3" stroke-width="0.7"/>
<line x1="193.91" y1="203.79" x2="198.93" y2="203.79" stroke="#fff" stroke-opacity="0.45" stroke-width="0.7"/>
<text class="c" x="196.92" y="223.40" font-size="7.1" text-anchor="end" transform="rotate(-45 196.92 223.40)">Male cone</text>
<text class="t" x="281.60" y="142.30" font-size="8.8" text-anchor="middle" font-style="italic" textLength="28.10" lengthAdjust="spacingAndGlyphs">DREB 8</text>
<text class="y" x="224.10" y="184.50" font-size="8.45" text-anchor="middle" textLength="84.70" lengthAdjust="spacingAndGlyphs" transform="rotate(-90 224.10 184.50)">Relative expression level</text>
<text x="282.00" y="258.20" font-size="9.0" text-anchor="middle" textLength="67.50" lengthAdjust="spacingAndGlyphs">Organs and tissues</text>
<line x1="245.20" y1="187.90" x2="245.20" y2="217.85" stroke="#7a7a7a" stroke-width="0.9"/>
<line x1="245.20" y1="155.40" x2="245.20" y2="183.30" stroke="#7a7a7a" stroke-width="0.9"/>
<line x1="243.50" y1="182.20" x2="246.70" y2="185.60" stroke="#7a7a7a" stroke-width="0.8"/>
<line x1="243.50" y1="187.20" x2="246.70" y2="190.60" stroke="#7a7a7a" stroke-width="0.8"/>
<line x1="242.20" y1="217.40" x2="245.20" y2="217.40" stroke="#7a7a7a" stroke-width="0.9"/>
<text x="241.70" y="220.50" font-size="7.4" text-anchor="end" textLength="3.20" lengthAdjust="spacingAndGlyphs">0</text>
<line x1="242.20" y1="210.15" x2="245.20" y2="210.15" stroke="#7a7a7a" stroke-width="0.9"/>
<text x="241.70" y="213.25" font-size="7.4" text-anchor="end" textLength="3.20" lengthAdjust="spacingAndGlyphs">5</text>
<line x1="242.20" y1="202.90" x2="245.20" y2="202.90" stroke="#7a7a7a" stroke-width="0.9"/>
<text x="241.70" y="206.00" font-size="7.4" text-anchor="end" textLength="6.40" lengthAdjust="spacingAndGlyphs">10</text>
<line x1="242.20" y1="195.65" x2="245.20" y2="195.65" stroke="#7a7a7a" stroke-width="0.9"/>
<text x="241.70" y="198.75" font-size="7.4" text-anchor="end" textLength="6.40" lengthAdjust="spacingAndGlyphs">15</text>
<line x1="242.20" y1="188.40" x2="245.20" y2="188.40" stroke="#7a7a7a" stroke-width="0.9"/>
<text x="241.70" y="191.50" font-size="7.4" text-anchor="end" textLength="6.40" lengthAdjust="spacingAndGlyphs">20</text>
<line x1="242.20" y1="178.40" x2="245.20" y2="178.40" stroke="#7a7a7a" stroke-width="0.9"/>
<text x="241.70" y="181.50" font-size="7.4" text-anchor="end" textLength="9.60" lengthAdjust="spacingAndGlyphs">180</text>
<line x1="242.20" y1="166.90" x2="245.20" y2="166.90" stroke="#7a7a7a" stroke-width="0.9"/>
<text x="241.70" y="170.00" font-size="7.4" text-anchor="end" textLength="9.60" lengthAdjust="spacingAndGlyphs">240</text>
<line x1="242.20" y1="155.40" x2="245.20" y2="155.40" stroke="#7a7a7a" stroke-width="0.9"/>
<text x="241.70" y="158.50" font-size="7.4" text-anchor="end" textLength="9.60" lengthAdjust="spacingAndGlyphs">300</text>
<line x1="245.20" y1="217.40" x2="317.65" y2="217.40" stroke="#7a7a7a" stroke-width="0.9"/>
<line x1="255.55" y1="217.40" x2="255.55" y2="219.60" stroke="#7a7a7a" stroke-width="0.9"/>
<rect x="251.20" y="216.53" width="8.69" height="0.87" fill="#acabb4"/>
<text class="c" x="256.05" y="223.30" font-size="7.1" text-anchor="end" transform="rotate(-45 256.05 223.30)">Callus tissue</text>
<line x1="265.90" y1="217.40" x2="265.90" y2="219.60" stroke="#7a7a7a" stroke-width="0.9"/>
<rect x="261.90" y="215.87" width="7.99" height="1.53" fill="#b5660e" stroke="#8d4f0a" stroke-width="0.7"/>
<line x1="265.90" y1="215.52" x2="265.90" y2="214.79" stroke="#959595" stroke-width="0.7"/>
<line x1="263.47" y1="214.79" x2="268.33" y2="214.79" stroke="#a0a0a0" stroke-width="0.7"/>
<text class="c" x="266.40" y="223.30" font-size="7.1" text-anchor="end" transform="rotate(-45 266.40 223.30)">Seedling</text>
<line x1="276.25" y1="217.40" x2="276.25" y2="219.60" stroke="#7a7a7a" stroke-width="0.9"/>
<rect x="272.25" y="188.25" width="7.99" height="29.15" fill="#c80000" stroke="#9c0000" stroke-width="0.7"/>
<rect x="272.25" y="168.59" width="7.99" height="14.71" fill="#c80000" stroke="#9c0000" stroke-width="0.7"/>
<line x1="276.25" y1="168.24" x2="276.25" y2="163.70" stroke="#959595" stroke-width="0.7"/>
<line x1="273.82" y1="163.70" x2="278.68" y2="163.70" stroke="#a0a0a0" stroke-width="0.7"/>
<line x1="276.25" y1="168.24" x2="276.25" y2="172.78" stroke="#fff" stroke-opacity="0.3" stroke-width="0.7"/>
<line x1="273.82" y1="172.78" x2="278.68" y2="172.78" stroke="#fff" stroke-opacity="0.45" stroke-width="0.7"/>
<text class="c" x="276.75" y="223.30" font-size="7.1" text-anchor="end" transform="rotate(-45 276.75 223.30)">Nascent bud</text>
<line x1="286.60" y1="217.40" x2="286.60" y2="219.60" stroke="#7a7a7a" stroke-width="0.9"/>
<rect x="282.60" y="210.50" width="7.99" height="6.90" fill="#e8700c" stroke="#b45709" stroke-width="0.7"/>
<line x1="286.60" y1="210.15" x2="286.60" y2="208.56" stroke="#959595" stroke-width="0.7"/>
<line x1="284.17" y1="208.56" x2="289.03" y2="208.56" stroke="#a0a0a0" stroke-width="0.7"/>
<line x1="286.60" y1="210.15" x2="286.60" y2="211.75" stroke="#fff" stroke-opacity="0.3" stroke-width="0.7"/>
<line x1="284.17" y1="211.75" x2="289.03" y2="211.75" stroke="#fff" stroke-opacity="0.45" stroke-width="0.7"/>
<text class="c" x="287.10" y="223.30" font-size="7.1" text-anchor="end" transform="rotate(-45 287.10 223.30)">Needle</text>
<line x1="296.95" y1="217.40" x2="296.95" y2="219.60" stroke="#7a7a7a" stroke-width="0.9"/>
<rect x="292.95" y="195.42" width="7.99" height="21.98" fill="#8a8c12" stroke="#6b6d0e" stroke-width="0.7"/>
<line x1="296.95" y1="195.07" x2="296.95" y2="191.44" stroke="#959595" stroke-width="0.7"/>
<line x1="294.52" y1="191.44" x2="299.38" y2="191.44" stroke="#a0a0a0" stroke-width="0.7"/>
<line x1="296.95" y1="195.07" x2="296.95" y2="198.69" stroke="#fff" stroke-opacity="0.3" stroke-width="0.7"/>
<line x1="294.52" y1="198.69" x2="299.38" y2="198.69" stroke="#fff" stroke-opacity="0.45" stroke-width="0.7"/>
<text class="c" x="297.45" y="223.30" font-size="7.1" text-anchor="end" transform="rotate(-45 297.45 223.30)">Female cone</text>
<line x1="307.30" y1="217.40" x2="307.30" y2="219.60" stroke="#7a7a7a" stroke-width="0.9"/>
<rect x="303.30" y="206.00" width="7.99" height="11.40" fill="#006600" stroke="#004f00" stroke-width="0.7"/>
<line x1="307.30" y1="205.66" x2="307.30" y2="198.41" stroke="#959595" stroke-width="0.7"/>
<line x1="304.87" y1="198.41" x2="309.73" y2="198.41" stroke="#a0a0a0" stroke-width="0.7"/>
<line x1="307.30" y1="205.66" x2="307.30" y2="212.91" stroke="#fff" stroke-opacity="0.3" stroke-width="0.7"/>
<line x1="304.87" y1="212.91" x2="309.73" y2="212.91" stroke="#fff" stroke-opacity="0.45" stroke-width="0.7"/>
<text class="c" x="307.80" y="223.30" font-size="7.1" text-anchor="end" transform="rotate(-45 307.80 223.30)">Male cone</text>
<text class="t" x="394.80" y="142.30" font-size="8.8" text-anchor="middle" font-style="italic" textLength="28.10" lengthAdjust="spacingAndGlyphs">DREB 9</text>
<text class="y" x="337.60" y="184.50" font-size="8.45" text-anchor="middle" textLength="84.70" lengthAdjust="spacingAndGlyphs" transform="rotate(-90 337.60 184.50)">Relative expression level</text>
<text x="395.20" y="258.20" font-size="9.0" text-anchor="middle" textLength="67.20" lengthAdjust="spacingAndGlyphs">Organs and tissues</text>
<line x1="358.40" y1="155.30" x2="358.40" y2="217.75" stroke="#7a7a7a" stroke-width="0.9"/>
<line x1="355.40" y1="217.30" x2="358.40" y2="217.30" stroke="#7a7a7a" stroke-width="0.9"/>
<text x="354.90" y="220.40" font-size="7.4" text-anchor="end" textLength="3.20" lengthAdjust="spacingAndGlyphs">0</text>
<line x1="355.40" y1="204.90" x2="358.40" y2="204.90" stroke="#7a7a7a" stroke-width="0.9"/>
<text x="354.90" y="208.00" font-size="7.4" text-anchor="end" textLength="6.40" lengthAdjust="spacingAndGlyphs">20</text>
<line x1="355.40" y1="192.50" x2="358.40" y2="192.50" stroke="#7a7a7a" stroke-width="0.9"/>
<text x="354.90" y="195.60" font-size="7.4" text-anchor="end" textLength="6.40" lengthAdjust="spacingAndGlyphs">40</text>
<line x1="355.40" y1="180.10" x2="358.40" y2="180.10" stroke="#7a7a7a" stroke-width="0.9"/>
<text x="354.90" y="183.20" font-size="7.4" text-anchor="end" textLength="6.40" lengthAdjust="spacingAndGlyphs">60</text>
<line x1="355.40" y1="167.70" x2="358.40" y2="167.70" stroke="#7a7a7a" stroke-width="0.9"/>
<text x="354.90" y="170.80" font-size="7.4" text-anchor="end" textLength="6.40" lengthAdjust="spacingAndGlyphs">80</text>
<line x1="355.40" y1="155.30" x2="358.40" y2="155.30" stroke="#7a7a7a" stroke-width="0.9"/>
<text x="354.90" y="158.40" font-size="7.4" text-anchor="end" textLength="9.60" lengthAdjust="spacingAndGlyphs">100</text>
<line x1="358.40" y1="217.30" x2="430.71" y2="217.30" stroke="#7a7a7a" stroke-width="0.9"/>
<line x1="368.73" y1="217.30" x2="368.73" y2="219.50" stroke="#7a7a7a" stroke-width="0.9"/>
<rect x="364.39" y="216.80" width="8.68" height="0.50" fill="#acabb4"/>
<text class="c" x="369.23" y="223.20" font-size="7.1" text-anchor="end" transform="rotate(-45 369.23 223.20)">Callus tissue</text>
<line x1="379.06" y1="217.30" x2="379.06" y2="219.50" stroke="#7a7a7a" stroke-width="0.9"/>
<rect x="375.07" y="160.92" width="7.98" height="56.38" fill="#b5660e" stroke="#8d4f0a" stroke-width="0.7"/>
<line x1="379.06" y1="160.57" x2="379.06" y2="159.02" stroke="#959595" stroke-width="0.7"/>
<line x1="376.63" y1="159.02" x2="381.49" y2="159.02" stroke="#a0a0a0" stroke-width="0.7"/>
<line x1="379.06" y1="160.57" x2="379.06" y2="162.12" stroke="#fff" stroke-opacity="0.3" stroke-width="0.7"/>
<line x1="376.63" y1="162.12" x2="381.49" y2="162.12" stroke="#fff" stroke-opacity="0.45" stroke-width="0.7"/>
<text class="c" x="379.56" y="223.20" font-size="7.1" text-anchor="end" transform="rotate(-45 379.56 223.20)">Seedling</text>
<line x1="389.39" y1="217.30" x2="389.39" y2="219.50" stroke="#7a7a7a" stroke-width="0.9"/>
<rect x="385.40" y="215.17" width="7.98" height="2.13" fill="#c80000" stroke="#9c0000" stroke-width="0.7"/>
<line x1="389.39" y1="214.82" x2="389.39" y2="213.27" stroke="#959595" stroke-width="0.7"/>
<line x1="386.96" y1="213.27" x2="391.82" y2="213.27" stroke="#a0a0a0" stroke-width="0.7"/>
<text class="c" x="389.89" y="223.20" font-size="7.1" text-anchor="end" transform="rotate(-45 389.89 223.20)">Nascent</text>
<line x1="399.72" y1="217.30" x2="399.72" y2="219.50" stroke="#7a7a7a" stroke-width="0.9"/>
<rect x="395.38" y="216.68" width="8.68" height="0.62" fill="#e8700c"/>
<line x1="399.72" y1="216.68" x2="399.72" y2="216.37" stroke="#959595" stroke-width="0.7"/>
<line x1="397.29" y1="216.37" x2="402.15" y2="216.37" stroke="#a0a0a0" stroke-width="0.7"/>
<text class="c" x="400.22" y="223.20" font-size="7.1" text-anchor="end" transform="rotate(-45 400.22 223.20)">Needle bud</text>
<line x1="410.05" y1="217.30" x2="410.05" y2="219.50" stroke="#7a7a7a" stroke-width="0.9"/>
<rect x="405.71" y="216.99" width="8.68" height="0.31" fill="#8a8c12"/>
<text class="c" x="410.55" y="223.20" font-size="7.1" text-anchor="end" transform="rotate(-45 410.55 223.20)">Female cone</text>
<line x1="420.38" y1="217.30" x2="420.38" y2="219.50" stroke="#7a7a7a" stroke-width="0.9"/>
<rect x="416.39" y="207.11" width="7.98" height="10.19" fill="#006600" stroke="#004f00" stroke-width="0.7"/>
<line x1="420.38" y1="206.76" x2="420.38" y2="205.83" stroke="#959595" stroke-width="0.7"/>
<line x1="417.95" y1="205.83" x2="422.81" y2="205.83" stroke="#a0a0a0" stroke-width="0.7"/>
<line x1="420.38" y1="206.76" x2="420.38" y2="207.69" stroke="#fff" stroke-opacity="0.3" stroke-width="0.7"/>
<line x1="417.95" y1="207.69" x2="422.81" y2="207.69" stroke="#fff" stroke-opacity="0.45" stroke-width="0.7"/>
<text class="c" x="420.88" y="223.20" font-size="7.1" text-anchor="end" transform="rotate(-45 420.88 223.20)">Male cone</text>
<text class="t" x="510.00" y="142.30" font-size="8.8" text-anchor="middle" font-style="italic" textLength="32.30" lengthAdjust="spacingAndGlyphs">DREB 10</text>
<text class="y" x="452.60" y="184.90" font-size="8.45" text-anchor="middle" textLength="84.70" lengthAdjust="spacingAndGlyphs" transform="rotate(-90 452.60 184.90)">Relative expression level</text>
<text x="510.50" y="258.20" font-size="9.0" text-anchor="middle" textLength="66.80" lengthAdjust="spacingAndGlyphs">Organs and tissues</text>
<line x1="473.40" y1="155.30" x2="473.40" y2="217.85" stroke="#7a7a7a" stroke-width="0.9"/>
<line x1="470.40" y1="217.40" x2="473.40" y2="217.40" stroke="#7a7a7a" stroke-width="0.9"/>
<text x="469.90" y="220.50" font-size="7.4" text-anchor="end" textLength="3.20" lengthAdjust="spacingAndGlyphs">0</text>
<line x1="470.40" y1="201.88" x2="473.40" y2="201.88" stroke="#7a7a7a" stroke-width="0.9"/>
<text x="469.90" y="204.97" font-size="7.4" text-anchor="end" textLength="6.40" lengthAdjust="spacingAndGlyphs">50</text>
<line x1="470.40" y1="186.35" x2="473.40" y2="186.35" stroke="#7a7a7a" stroke-width="0.9"/>
<text x="469.90" y="189.45" font-size="7.4" text-anchor="end" textLength="9.60" lengthAdjust="spacingAndGlyphs">100</text>
<line x1="470.40" y1="170.83" x2="473.40" y2="170.83" stroke="#7a7a7a" stroke-width="0.9"/>
<text x="469.90" y="173.93" font-size="7.4" text-anchor="end" textLength="9.60" lengthAdjust="spacingAndGlyphs">150</text>
<line x1="470.40" y1="155.30" x2="473.40" y2="155.30" stroke="#7a7a7a" stroke-width="0.9"/>
<text x="469.90" y="158.40" font-size="7.4" text-anchor="end" textLength="9.60" lengthAdjust="spacingAndGlyphs">200</text>
<line x1="473.40" y1="217.40" x2="545.71" y2="217.40" stroke="#7a7a7a" stroke-width="0.9"/>
<line x1="483.73" y1="217.40" x2="483.73" y2="219.60" stroke="#7a7a7a" stroke-width="0.9"/>
<rect x="479.39" y="217.24" width="8.68" height="0.16" fill="#acabb4"/>
<text class="c" x="484.23" y="223.30" font-size="7.1" text-anchor="end" transform="rotate(-45 484.23 223.30)">Callus tissue</text>
<line x1="494.06" y1="217.40" x2="494.06" y2="219.60" stroke="#7a7a7a" stroke-width="0.9"/>
<rect x="490.07" y="214.65" width="7.98" height="2.75" fill="#b5660e" stroke="#8d4f0a" stroke-width="0.7"/>
<line x1="494.06" y1="214.30" x2="494.06" y2="213.36" stroke="#959595" stroke-width="0.7"/>
<line x1="491.63" y1="213.36" x2="496.49" y2="213.36" stroke="#a0a0a0" stroke-width="0.7"/>
<text class="c" x="494.56" y="223.30" font-size="7.1" text-anchor="end" transform="rotate(-45 494.56 223.30)">Seedling</text>
<line x1="504.39" y1="217.40" x2="504.39" y2="219.60" stroke="#7a7a7a" stroke-width="0.9"/>
<rect x="500.40" y="192.60" width="7.98" height="24.80" fill="#c80000" stroke="#9c0000" stroke-width="0.7"/>
<line x1="504.39" y1="192.25" x2="504.39" y2="186.66" stroke="#959595" stroke-width="0.7"/>
<line x1="501.96" y1="186.66" x2="506.82" y2="186.66" stroke="#a0a0a0" stroke-width="0.7"/>
<line x1="504.39" y1="192.25" x2="504.39" y2="197.84" stroke="#fff" stroke-opacity="0.3" stroke-width="0.7"/>
<line x1="501.96" y1="197.84" x2="506.82" y2="197.84" stroke="#fff" stroke-opacity="0.45" stroke-width="0.7"/>
<text class="c" x="504.89" y="223.30" font-size="7.1" text-anchor="end" transform="rotate(-45 504.89 223.30)">Nascent bud</text>
<line x1="514.72" y1="217.40" x2="514.72" y2="219.60" stroke="#7a7a7a" stroke-width="0.9"/>
<rect x="510.73" y="182.97" width="7.98" height="34.43" fill="#e8700c" stroke="#b45709" stroke-width="0.7"/>
<line x1="514.72" y1="182.62" x2="514.72" y2="177.97" stroke="#959595" stroke-width="0.7"/>
<line x1="512.29" y1="177.97" x2="517.15" y2="177.97" stroke="#a0a0a0" stroke-width="0.7"/>
<line x1="514.72" y1="182.62" x2="514.72" y2="187.28" stroke="#fff" stroke-opacity="0.3" stroke-width="0.7"/>
<line x1="512.29" y1="187.28" x2="517.15" y2="187.28" stroke="#fff" stroke-opacity="0.45" stroke-width="0.7"/>
<text class="c" x="515.22" y="223.30" font-size="7.1" text-anchor="end" transform="rotate(-45 515.22 223.30)">Needle</text>
<line x1="525.05" y1="217.40" x2="525.05" y2="219.60" stroke="#7a7a7a" stroke-width="0.9"/>
<rect x="521.06" y="168.38" width="7.98" height="49.02" fill="#8a8c12" stroke="#6b6d0e" stroke-width="0.7"/>
<line x1="525.05" y1="168.03" x2="525.05" y2="157.16" stroke="#959595" stroke-width="0.7"/>
<line x1="522.62" y1="157.16" x2="527.48" y2="157.16" stroke="#a0a0a0" stroke-width="0.7"/>
<line x1="525.05" y1="168.03" x2="525.05" y2="178.90" stroke="#fff" stroke-opacity="0.3" stroke-width="0.7"/>
<line x1="522.62" y1="178.90" x2="527.48" y2="178.90" stroke="#fff" stroke-opacity="0.45" stroke-width="0.7"/>
<text class="c" x="525.55" y="223.30" font-size="7.1" text-anchor="end" transform="rotate(-45 525.55 223.30)">Female cone</text>
<line x1="535.38" y1="217.40" x2="535.38" y2="219.60" stroke="#7a7a7a" stroke-width="0.9"/>
<rect x="531.04" y="216.84" width="8.68" height="0.56" fill="#006600"/>
<text class="c" x="535.88" y="223.30" font-size="7.1" text-anchor="end" transform="rotate(-45 535.88 223.30)">Male cone</text>
<text class="t" x="68.30" y="273.30" font-size="8.8" text-anchor="middle" font-style="italic" textLength="31.60" lengthAdjust="spacingAndGlyphs">DREB 11</text>
<text class="y" x="11.50" y="315.70" font-size="8.45" text-anchor="middle" textLength="84.70" lengthAdjust="spacingAndGlyphs" transform="rotate(-90 11.50 315.70)">Relative expression level</text>
<text x="69.50" y="388.70" font-size="9.0" text-anchor="middle" textLength="67.50" lengthAdjust="spacingAndGlyphs">Organs and tissues</text>
<line x1="32.30" y1="286.20" x2="32.30" y2="348.85" stroke="#7a7a7a" stroke-width="0.9"/>
<line x1="29.30" y1="348.40" x2="32.30" y2="348.40" stroke="#7a7a7a" stroke-width="0.9"/>
<text x="28.80" y="351.50" font-size="7.4" text-anchor="end" textLength="3.20" lengthAdjust="spacingAndGlyphs">0</text>
<line x1="29.30" y1="327.67" x2="32.30" y2="327.67" stroke="#7a7a7a" stroke-width="0.9"/>
<text x="28.80" y="330.77" font-size="7.4" text-anchor="end" textLength="9.60" lengthAdjust="spacingAndGlyphs">100</text>
<line x1="29.30" y1="306.93" x2="32.30" y2="306.93" stroke="#7a7a7a" stroke-width="0.9"/>
<text x="28.80" y="310.03" font-size="7.4" text-anchor="end" textLength="9.60" lengthAdjust="spacingAndGlyphs">200</text>
<line x1="29.30" y1="286.20" x2="32.30" y2="286.20" stroke="#7a7a7a" stroke-width="0.9"/>
<text x="28.80" y="289.30" font-size="7.4" text-anchor="end" textLength="9.60" lengthAdjust="spacingAndGlyphs">300</text>
<line x1="32.30" y1="348.40" x2="104.82" y2="348.40" stroke="#7a7a7a" stroke-width="0.9"/>
<line x1="42.66" y1="348.40" x2="42.66" y2="350.60" stroke="#7a7a7a" stroke-width="0.9"/>
<rect x="38.31" y="348.30" width="8.70" height="0.10" fill="#acabb4"/>
<text class="c" x="43.16" y="354.30" font-size="7.1" text-anchor="end" transform="rotate(-45 43.16 354.30)">Callus tissue</text>
<line x1="53.02" y1="348.40" x2="53.02" y2="350.60" stroke="#7a7a7a" stroke-width="0.9"/>
<rect x="48.67" y="347.16" width="8.70" height="1.24" fill="#b5660e"/>
<text class="c" x="53.52" y="354.30" font-size="7.1" text-anchor="end" transform="rotate(-45 53.52 354.30)">Seedling</text>
<line x1="63.38" y1="348.40" x2="63.38" y2="350.60" stroke="#7a7a7a" stroke-width="0.9"/>
<rect x="59.38" y="332.16" width="8.00" height="16.24" fill="#c80000" stroke="#9c0000" stroke-width="0.7"/>
<line x1="63.38" y1="331.81" x2="63.38" y2="328.91" stroke="#959595" stroke-width="0.7"/>
<line x1="60.94" y1="328.91" x2="65.82" y2="328.91" stroke="#a0a0a0" stroke-width="0.7"/>
<line x1="63.38" y1="331.81" x2="63.38" y2="334.72" stroke="#fff" stroke-opacity="0.3" stroke-width="0.7"/>
<line x1="60.94" y1="334.72" x2="65.82" y2="334.72" stroke="#fff" stroke-opacity="0.45" stroke-width="0.7"/>
<text class="c" x="63.88" y="354.30" font-size="7.1" text-anchor="end" transform="rotate(-45 63.88 354.30)">Nascent bud</text>
<line x1="73.74" y1="348.40" x2="73.74" y2="350.60" stroke="#7a7a7a" stroke-width="0.9"/>
<rect x="69.74" y="345.43" width="8.00" height="2.97" fill="#e8700c" stroke="#b45709" stroke-width="0.7"/>
<line x1="73.74" y1="345.08" x2="73.74" y2="344.25" stroke="#959595" stroke-width="0.7"/>
<line x1="71.30" y1="344.25" x2="76.18" y2="344.25" stroke="#a0a0a0" stroke-width="0.7"/>
<text class="c" x="74.24" y="354.30" font-size="7.1" text-anchor="end" transform="rotate(-45 74.24 354.30)">Needle</text>
<line x1="84.10" y1="348.40" x2="84.10" y2="350.60" stroke="#7a7a7a" stroke-width="0.9"/>
<rect x="80.10" y="342.94" width="8.00" height="5.46" fill="#8a8c12" stroke="#6b6d0e" stroke-width="0.7"/>
<line x1="84.10" y1="342.59" x2="84.10" y2="341.97" stroke="#959595" stroke-width="0.7"/>
<line x1="81.66" y1="341.97" x2="86.54" y2="341.97" stroke="#a0a0a0" stroke-width="0.7"/>
<text class="c" x="84.60" y="354.30" font-size="7.1" text-anchor="end" transform="rotate(-45 84.60 354.30)">Female cone</text>
<line x1="94.46" y1="348.40" x2="94.46" y2="350.60" stroke="#7a7a7a" stroke-width="0.9"/>
<rect x="90.46" y="301.48" width="8.00" height="46.92" fill="#006600" stroke="#004f00" stroke-width="0.7"/>
<line x1="94.46" y1="301.13" x2="94.46" y2="294.29" stroke="#959595" stroke-width="0.7"/>
<line x1="92.02" y1="294.29" x2="96.90" y2="294.29" stroke="#a0a0a0" stroke-width="0.7"/>
<line x1="94.46" y1="301.13" x2="94.46" y2="307.97" stroke="#fff" stroke-opacity="0.3" stroke-width="0.7"/>
<line x1="92.02" y1="307.97" x2="96.90" y2="307.97" stroke="#fff" stroke-opacity="0.45" stroke-width="0.7"/>
<text class="c" x="94.96" y="354.30" font-size="7.1" text-anchor="end" transform="rotate(-45 94.96 354.30)">Male cone</text>
<text class="t" x="170.50" y="272.70" font-size="8.8" text-anchor="middle" font-style="italic" textLength="31.30" lengthAdjust="spacingAndGlyphs">DREB 12</text>
<text class="y" x="114.00" y="315.30" font-size="8.45" text-anchor="middle" textLength="84.70" lengthAdjust="spacingAndGlyphs" transform="rotate(-90 114.00 315.30)">Relative expression level</text>
<text x="171.50" y="388.70" font-size="9.0" text-anchor="middle" textLength="67.20" lengthAdjust="spacingAndGlyphs">Organs and tissues</text>
<line x1="134.70" y1="286.20" x2="134.70" y2="348.65" stroke="#7a7a7a" stroke-width="0.9"/>
<line x1="131.70" y1="348.20" x2="134.70" y2="348.20" stroke="#7a7a7a" stroke-width="0.9"/>
<text x="131.20" y="351.30" font-size="7.4" text-anchor="end" textLength="3.20" lengthAdjust="spacingAndGlyphs">0</text>
<line x1="131.70" y1="332.70" x2="134.70" y2="332.70" stroke="#7a7a7a" stroke-width="0.9"/>
<text x="131.20" y="335.80" font-size="7.4" text-anchor="end" textLength="6.40" lengthAdjust="spacingAndGlyphs">25</text>
<line x1="131.70" y1="317.20" x2="134.70" y2="317.20" stroke="#7a7a7a" stroke-width="0.9"/>
<text x="131.20" y="320.30" font-size="7.4" text-anchor="end" textLength="6.40" lengthAdjust="spacingAndGlyphs">50</text>
<line x1="131.70" y1="301.70" x2="134.70" y2="301.70" stroke="#7a7a7a" stroke-width="0.9"/>
<text x="131.20" y="304.80" font-size="7.4" text-anchor="end" textLength="6.40" lengthAdjust="spacingAndGlyphs">75</text>
<line x1="131.70" y1="286.20" x2="134.70" y2="286.20" stroke="#7a7a7a" stroke-width="0.9"/>
<text x="131.20" y="289.30" font-size="7.4" text-anchor="end" textLength="9.60" lengthAdjust="spacingAndGlyphs">100</text>
<line x1="134.70" y1="348.20" x2="206.59" y2="348.20" stroke="#7a7a7a" stroke-width="0.9"/>
<line x1="144.97" y1="348.20" x2="144.97" y2="350.40" stroke="#7a7a7a" stroke-width="0.9"/>
<rect x="140.66" y="347.70" width="8.63" height="0.50" fill="#acabb4"/>
<text class="c" x="145.47" y="354.10" font-size="7.1" text-anchor="end" transform="rotate(-45 145.47 354.10)">Callus tissue</text>
<line x1="155.24" y1="348.20" x2="155.24" y2="350.40" stroke="#7a7a7a" stroke-width="0.9"/>
<rect x="151.28" y="343.84" width="7.93" height="4.36" fill="#b5660e" stroke="#8d4f0a" stroke-width="0.7"/>
<line x1="155.24" y1="343.49" x2="155.24" y2="340.76" stroke="#959595" stroke-width="0.7"/>
<line x1="152.82" y1="340.76" x2="157.66" y2="340.76" stroke="#a0a0a0" stroke-width="0.7"/>
<text class="c" x="155.74" y="354.10" font-size="7.1" text-anchor="end" transform="rotate(-45 155.74 354.10)">Seedling</text>
<line x1="165.51" y1="348.20" x2="165.51" y2="350.40" stroke="#7a7a7a" stroke-width="0.9"/>
<rect x="161.55" y="302.05" width="7.93" height="46.15" fill="#c80000" stroke="#9c0000" stroke-width="0.7"/>
<line x1="165.51" y1="301.70" x2="165.51" y2="297.98" stroke="#959595" stroke-width="0.7"/>
<line x1="163.09" y1="297.98" x2="167.93" y2="297.98" stroke="#a0a0a0" stroke-width="0.7"/>
<line x1="165.51" y1="301.70" x2="165.51" y2="305.42" stroke="#fff" stroke-opacity="0.3" stroke-width="0.7"/>
<line x1="163.09" y1="305.42" x2="167.93" y2="305.42" stroke="#fff" stroke-opacity="0.45" stroke-width="0.7"/>
<text class="c" x="166.01" y="354.10" font-size="7.1" text-anchor="end" transform="rotate(-45 166.01 354.10)">Nascent bud</text>
<line x1="175.78" y1="348.20" x2="175.78" y2="350.40" stroke="#7a7a7a" stroke-width="0.9"/>
<rect x="171.82" y="337.08" width="7.93" height="11.12" fill="#e8700c" stroke="#b45709" stroke-width="0.7"/>
<line x1="175.78" y1="336.73" x2="175.78" y2="334.19" stroke="#959595" stroke-width="0.7"/>
<line x1="173.36" y1="334.19" x2="178.20" y2="334.19" stroke="#a0a0a0" stroke-width="0.7"/>
<line x1="175.78" y1="336.73" x2="175.78" y2="339.27" stroke="#fff" stroke-opacity="0.3" stroke-width="0.7"/>
<line x1="173.36" y1="339.27" x2="178.20" y2="339.27" stroke="#fff" stroke-opacity="0.45" stroke-width="0.7"/>
<text class="c" x="176.28" y="354.10" font-size="7.1" text-anchor="end" transform="rotate(-45 176.28 354.10)">Needle</text>
<line x1="186.05" y1="348.20" x2="186.05" y2="350.40" stroke="#7a7a7a" stroke-width="0.9"/>
<rect x="182.09" y="338.88" width="7.93" height="9.32" fill="#8a8c12" stroke="#6b6d0e" stroke-width="0.7"/>
<line x1="186.05" y1="338.53" x2="186.05" y2="336.42" stroke="#959595" stroke-width="0.7"/>
<line x1="183.63" y1="336.42" x2="188.47" y2="336.42" stroke="#a0a0a0" stroke-width="0.7"/>
<line x1="186.05" y1="338.53" x2="186.05" y2="340.64" stroke="#fff" stroke-opacity="0.3" stroke-width="0.7"/>
<line x1="183.63" y1="340.64" x2="188.47" y2="340.64" stroke="#fff" stroke-opacity="0.45" stroke-width="0.7"/>
<text class="c" x="186.55" y="354.10" font-size="7.1" text-anchor="end" transform="rotate(-45 186.55 354.10)">Female cone</text>
<line x1="196.32" y1="348.20" x2="196.32" y2="350.40" stroke="#7a7a7a" stroke-width="0.9"/>
<rect x="192.36" y="338.44" width="7.93" height="9.76" fill="#006600" stroke="#004f00" stroke-width="0.7"/>
<line x1="196.32" y1="338.09" x2="196.32" y2="334.56" stroke="#959595" stroke-width="0.7"/>
<line x1="193.90" y1="334.56" x2="198.74" y2="334.56" stroke="#a0a0a0" stroke-width="0.7"/>
<line x1="196.32" y1="338.09" x2="196.32" y2="341.63" stroke="#fff" stroke-opacity="0.3" stroke-width="0.7"/>
<line x1="193.90" y1="341.63" x2="198.74" y2="341.63" stroke="#fff" stroke-opacity="0.45" stroke-width="0.7"/>
<text class="c" x="196.82" y="354.10" font-size="7.1" text-anchor="end" transform="rotate(-45 196.82 354.10)">Male cone</text>
<text class="t" x="279.80" y="272.70" font-size="8.8" text-anchor="middle" font-style="italic" textLength="32.70" lengthAdjust="spacingAndGlyphs">DREB 13</text>
<text class="y" x="224.50" y="315.70" font-size="8.45" text-anchor="middle" textLength="84.70" lengthAdjust="spacingAndGlyphs" transform="rotate(-90 224.50 315.70)">Relative expression level</text>
<text x="281.00" y="388.70" font-size="9.0" text-anchor="middle" textLength="69.40" lengthAdjust="spacingAndGlyphs">Organs and tissues</text>
<line x1="242.90" y1="286.20" x2="242.90" y2="348.75" stroke="#7a7a7a" stroke-width="0.9"/>
<line x1="239.90" y1="348.30" x2="242.90" y2="348.30" stroke="#7a7a7a" stroke-width="0.9"/>
<text x="239.40" y="351.40" font-size="7.4" text-anchor="end" textLength="3.20" lengthAdjust="spacingAndGlyphs">0</text>
<line x1="239.90" y1="327.60" x2="242.90" y2="327.60" stroke="#7a7a7a" stroke-width="0.9"/>
<text x="239.40" y="330.70" font-size="7.4" text-anchor="end" textLength="3.20" lengthAdjust="spacingAndGlyphs">5</text>
<line x1="239.90" y1="306.90" x2="242.90" y2="306.90" stroke="#7a7a7a" stroke-width="0.9"/>
<text x="239.40" y="310.00" font-size="7.4" text-anchor="end" textLength="6.40" lengthAdjust="spacingAndGlyphs">10</text>
<line x1="239.90" y1="286.20" x2="242.90" y2="286.20" stroke="#7a7a7a" stroke-width="0.9"/>
<text x="239.40" y="289.30" font-size="7.4" text-anchor="end" textLength="6.40" lengthAdjust="spacingAndGlyphs">15</text>
<line x1="242.90" y1="348.30" x2="317.10" y2="348.30" stroke="#7a7a7a" stroke-width="0.9"/>
<line x1="253.50" y1="348.30" x2="253.50" y2="350.50" stroke="#7a7a7a" stroke-width="0.9"/>
<rect x="249.40" y="344.10" width="8.20" height="4.20" fill="#acabb4" stroke="#93939a" stroke-width="0.7"/>
<line x1="253.50" y1="343.75" x2="253.50" y2="342.92" stroke="#959595" stroke-width="0.7"/>
<line x1="251.01" y1="342.92" x2="255.99" y2="342.92" stroke="#a0a0a0" stroke-width="0.7"/>
<text class="c" x="254.00" y="354.20" font-size="7.1" text-anchor="end" transform="rotate(-45 254.00 354.20)">Callus tissue</text>
<line x1="264.10" y1="348.30" x2="264.10" y2="350.50" stroke="#7a7a7a" stroke-width="0.9"/>
<rect x="260.00" y="339.54" width="8.20" height="8.76" fill="#b5660e" stroke="#8d4f0a" stroke-width="0.7"/>
<line x1="264.10" y1="339.19" x2="264.10" y2="337.95" stroke="#959595" stroke-width="0.7"/>
<line x1="261.61" y1="337.95" x2="266.59" y2="337.95" stroke="#a0a0a0" stroke-width="0.7"/>
<line x1="264.10" y1="339.19" x2="264.10" y2="340.43" stroke="#fff" stroke-opacity="0.3" stroke-width="0.7"/>
<line x1="261.61" y1="340.43" x2="266.59" y2="340.43" stroke="#fff" stroke-opacity="0.45" stroke-width="0.7"/>
<text class="c" x="264.60" y="354.20" font-size="7.1" text-anchor="end" transform="rotate(-45 264.60 354.20)">Seedling</text>
<line x1="274.70" y1="348.30" x2="274.70" y2="350.50" stroke="#7a7a7a" stroke-width="0.9"/>
<rect x="270.60" y="305.18" width="8.20" height="43.12" fill="#c80000" stroke="#9c0000" stroke-width="0.7"/>
<line x1="274.70" y1="304.83" x2="274.70" y2="303.59" stroke="#959595" stroke-width="0.7"/>
<line x1="272.21" y1="303.59" x2="277.19" y2="303.59" stroke="#a0a0a0" stroke-width="0.7"/>
<line x1="274.70" y1="304.83" x2="274.70" y2="306.07" stroke="#fff" stroke-opacity="0.3" stroke-width="0.7"/>
<line x1="272.21" y1="306.07" x2="277.19" y2="306.07" stroke="#fff" stroke-opacity="0.45" stroke-width="0.7"/>
<text class="c" x="275.20" y="354.20" font-size="7.1" text-anchor="end" transform="rotate(-45 275.20 354.20)">Nascent bud</text>
<line x1="285.30" y1="348.30" x2="285.30" y2="350.50" stroke="#7a7a7a" stroke-width="0.9"/>
<rect x="281.20" y="342.44" width="8.20" height="5.86" fill="#e8700c" stroke="#b45709" stroke-width="0.7"/>
<line x1="285.30" y1="342.09" x2="285.30" y2="338.78" stroke="#959595" stroke-width="0.7"/>
<line x1="282.81" y1="338.78" x2="287.79" y2="338.78" stroke="#a0a0a0" stroke-width="0.7"/>
<line x1="285.30" y1="342.09" x2="285.30" y2="345.40" stroke="#fff" stroke-opacity="0.3" stroke-width="0.7"/>
<line x1="282.81" y1="345.40" x2="287.79" y2="345.40" stroke="#fff" stroke-opacity="0.45" stroke-width="0.7"/>
<text class="c" x="285.80" y="354.20" font-size="7.1" text-anchor="end" transform="rotate(-45 285.80 354.20)">Needle</text>
<line x1="295.90" y1="348.30" x2="295.90" y2="350.50" stroke="#7a7a7a" stroke-width="0.9"/>
<rect x="291.80" y="330.02" width="8.20" height="18.28" fill="#8a8c12" stroke="#6b6d0e" stroke-width="0.7"/>
<line x1="295.90" y1="329.67" x2="295.90" y2="326.36" stroke="#959595" stroke-width="0.7"/>
<line x1="293.41" y1="326.36" x2="298.39" y2="326.36" stroke="#a0a0a0" stroke-width="0.7"/>
<line x1="295.90" y1="329.67" x2="295.90" y2="332.98" stroke="#fff" stroke-opacity="0.3" stroke-width="0.7"/>
<line x1="293.41" y1="332.98" x2="298.39" y2="332.98" stroke="#fff" stroke-opacity="0.45" stroke-width="0.7"/>
<text class="c" x="296.40" y="354.20" font-size="7.1" text-anchor="end" transform="rotate(-45 296.40 354.20)">Female cone</text>
<line x1="306.50" y1="348.30" x2="306.50" y2="350.50" stroke="#7a7a7a" stroke-width="0.9"/>
<rect x="302.40" y="336.23" width="8.20" height="12.07" fill="#006600" stroke="#004f00" stroke-width="0.7"/>
<line x1="306.50" y1="335.88" x2="306.50" y2="332.32" stroke="#959595" stroke-width="0.7"/>
<line x1="304.01" y1="332.32" x2="308.99" y2="332.32" stroke="#a0a0a0" stroke-width="0.7"/>
<line x1="306.50" y1="335.88" x2="306.50" y2="339.44" stroke="#fff" stroke-opacity="0.3" stroke-width="0.7"/>
<line x1="304.01" y1="339.44" x2="308.99" y2="339.44" stroke="#fff" stroke-opacity="0.45" stroke-width="0.7"/>
<text class="c" x="307.00" y="354.20" font-size="7.1" text-anchor="end" transform="rotate(-45 307.00 354.20)">Male cone</text>
</g>
</svg>
</body></html>
